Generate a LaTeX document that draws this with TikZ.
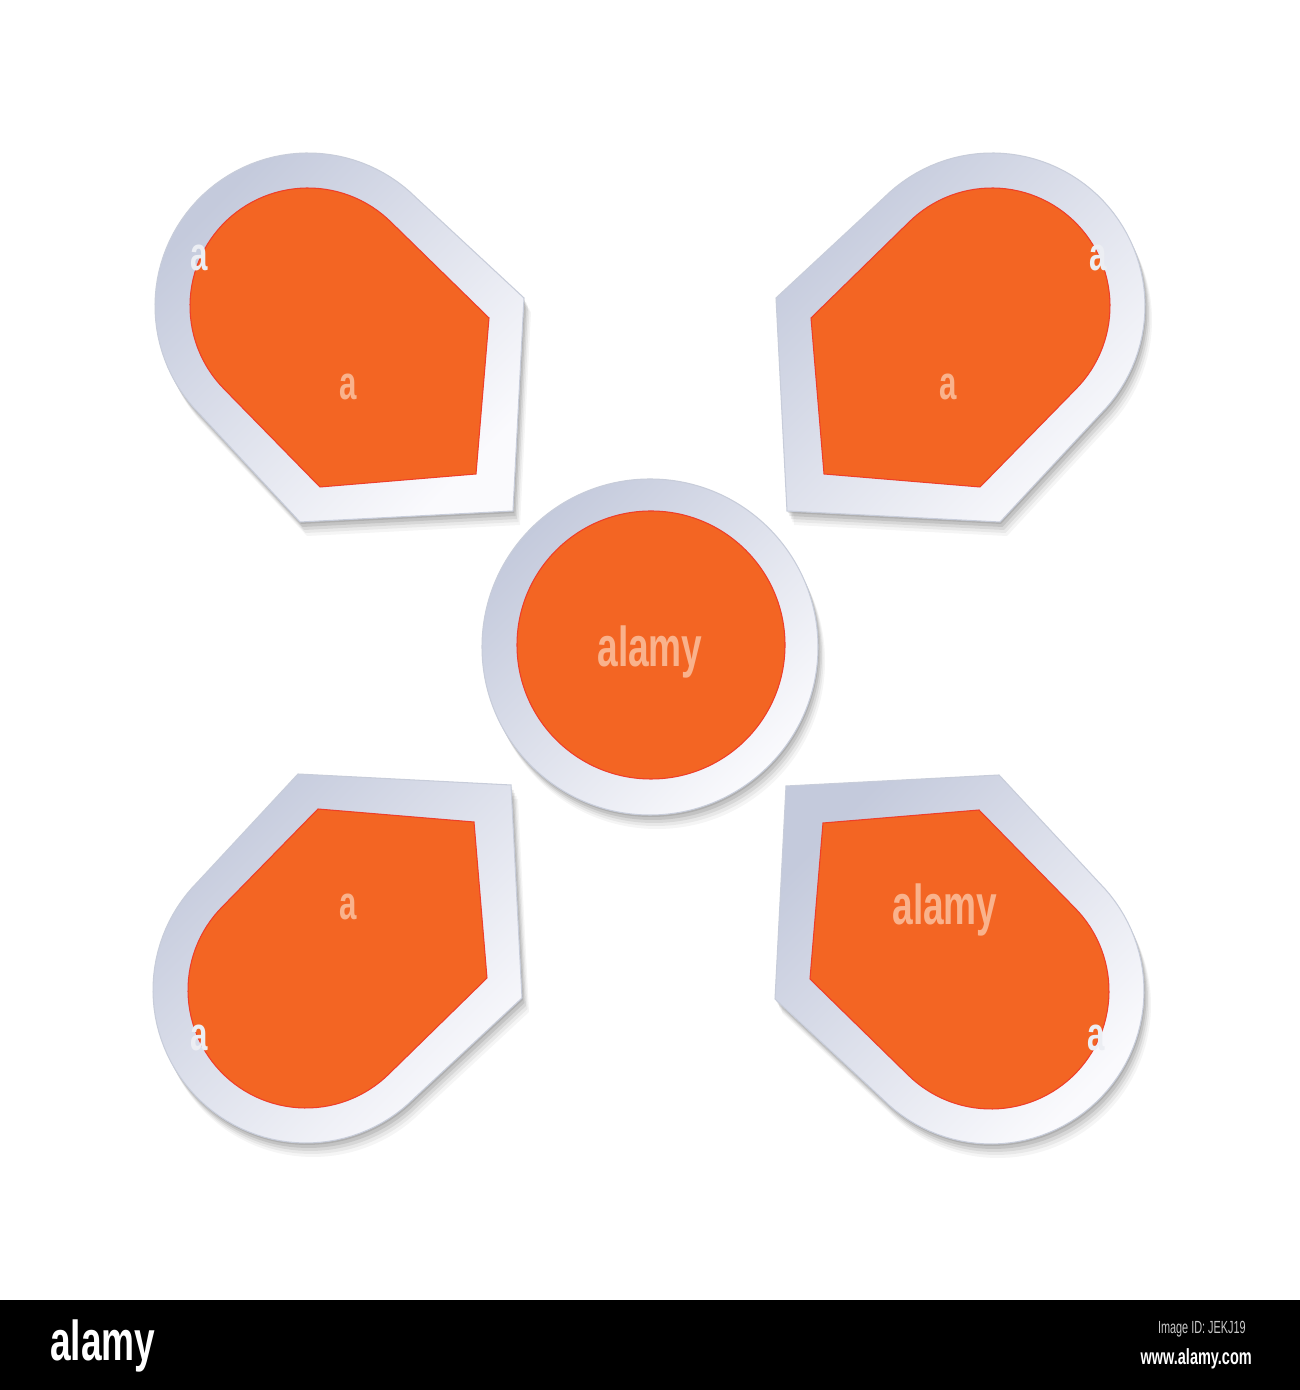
\documentclass[tikz,border=0pt]{standalone}
\usepackage{fontspec}
\setmainfont{Liberation Sans}
\definecolor{orangefill}{RGB}{243,101,35}
\definecolor{orangeedge}{RGB}{238,62,42}
\definecolor{bordark}{RGB}{196,202,220}
\definecolor{borlight}{RGB}{250,250,253}
\definecolor{boredge}{RGB}{200,205,218}
\definecolor{peach}{RGB}{249,178,140}
\definecolor{wmark}{RGB}{236,238,243}
\definecolor{idgray}{RGB}{200,200,200}
% outer sticker outline: cx cy sx sy dx dy
\newcommand{\outerpath}[6]{plot[domain=45:225,samples=60] ({#1+#3*153*cos(\x)+#5},{#2+#4*153*sin(\x)+#6}) -- ({#1+#3*(-8)+#5},{#2+#4*(-216)+#6}) -- ({#1+#3*205+#5},{#2+#4*(-205)+#6}) -- ({#1+#3*216+#5},{#2+#4*8+#6}) -- cycle}
\newcommand{\innerpath}[4]{plot[domain=45:225,samples=60] ({#1+#3*118*cos(\x)},{#2+#4*118*sin(\x)}) -- ({#1+#3*12},{#2+#4*(-181)}) -- ({#1+#3*168},{#2+#4*(-168)}) -- ({#1+#3*181},{#2+#4*(-12)}) -- cycle}
\newcommand{\drawpetal}[4]{%
  \foreach \o/\op in {14/0.04,11/0.05,8/0.07,5/0.09,2/0.1}{\fill[black,opacity=\op] \outerpath{#1}{#2}{#3}{#4}{0.5*\o}{-\o};}
  \path[sticker] \outerpath{#1}{#2}{#3}{#4}{0}{0};
  \path[orangepart] \innerpath{#1}{#2}{#3}{#4};
}
\begin{document}
\begin{tikzpicture}[x=0.02cm,y=0.02cm,
  sticker/.style={draw=boredge,line width=0.6pt,top color=bordark,bottom color=borlight,shading angle=45},
  orangepart/.style={fill=orangefill,draw=orangeedge,line width=0.6pt},
  wm/.style={text=peach,font=\bfseries\fontsize{32}{32}\selectfont,xscale=0.66,inner sep=0},
  wma/.style={text=peach,font=\bfseries\fontsize{27}{27}\selectfont,xscale=0.66,inner sep=0},
  wmb/.style={text=wmark,font=\bfseries\fontsize{27}{27}\selectfont,xscale=0.66,inner sep=0}]
\useasboundingbox (0,0) rectangle (1300,1390);
\fill[white] (0,0) rectangle (1300,1390);
% petals
\drawpetal{308}{1084}{1}{1}
\drawpetal{992}{1084}{-1}{1}
\drawpetal{306}{400}{1}{-1}
\drawpetal{991}{399}{-1}{-1}
% center
\foreach \o/\op in {14/0.04,11/0.05,8/0.07,5/0.09,2/0.1}{\fill[black,opacity=\op] ({650+0.5*\o},{743-\o}) circle[radius=168];}
\path[sticker] (650,743) circle[radius=168];
\path[orangepart] (651,745) circle[radius=134];
% watermark texts
\node[wm] (wc) at (650,738) {alamy};
\node[wm] (wbr) at (945,480) {alamy};
\node[wma] (a1) at (348,1003) {a};
\node[wma] (a2) at (948,1003) {a};
\node[wma] (a3) at (348,483) {a};
\node[wmb] (b1) at (199,1132) {a};
\node[wmb] (b2) at (1098,1132) {a};
\node[wmb] (b3) at (199,352) {a};
\node[wmb] (b4) at (1096,352) {a};
% bottom bar
\fill[black] (0,0) rectangle (1300,90);
\node[anchor=base west,text=white,font=\bfseries\fontsize{32}{32}\selectfont,xscale=0.66,inner sep=0] (logo) at (50,30) {alamy};
\node[anchor=base east,text=idgray,font=\fontsize{10}{10}\selectfont,xscale=0.62,inner sep=0] (imgid) at (1246,56) {Image ID: JEKJ19};
\node[anchor=base east,text=white,font=\bfseries\fontsize{12.5}{12.5}\selectfont,xscale=0.66,inner sep=0] (url) at (1252,26) {www.alamy.com};
\end{tikzpicture}
\end{document}
